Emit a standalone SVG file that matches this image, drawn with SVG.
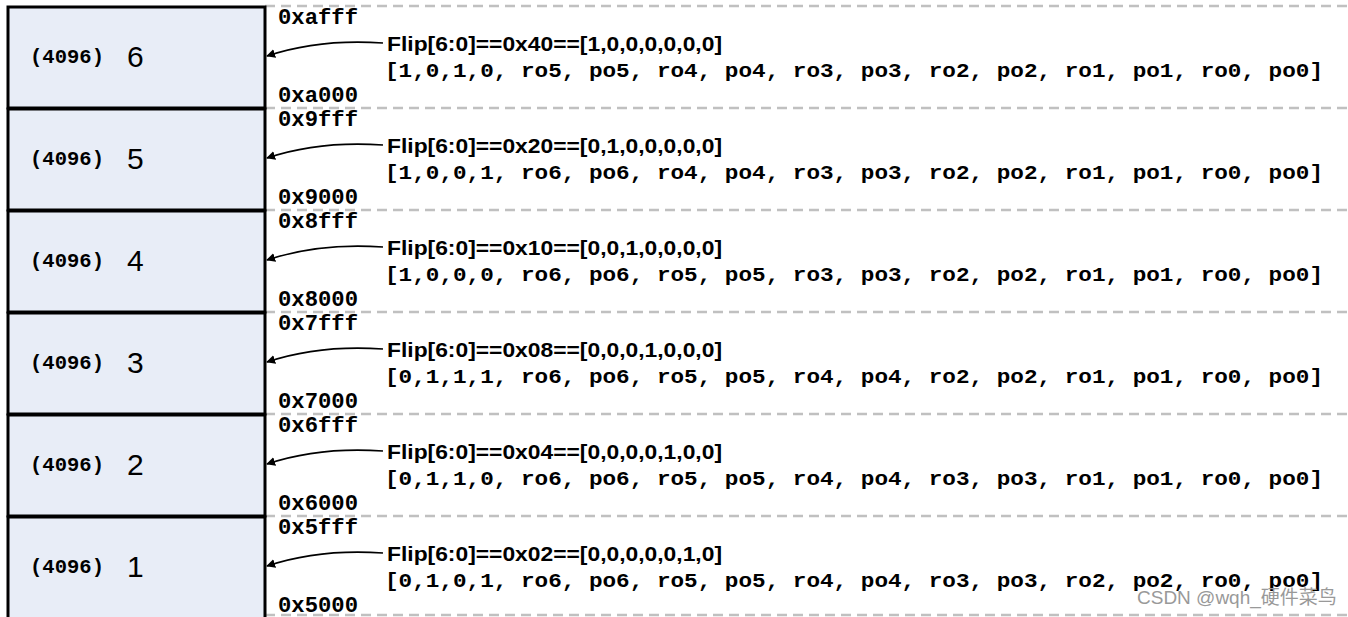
<svg xmlns="http://www.w3.org/2000/svg" width="1348" height="617" viewBox="0 0 1348 617">
<style>
.box{fill:#e8edf7;stroke:#000;stroke-width:3}
.dash{stroke:#c0c0c0;stroke-width:2.5;stroke-dasharray:10 6;fill:none}
.addr{font-family:"Liberation Mono",monospace;font-weight:bold;font-size:22px;fill:#000}
.cnt{font-family:"Liberation Mono",monospace;font-weight:bold;font-size:20px;fill:#000}
.num{font-family:"Liberation Sans",sans-serif;font-size:30px;fill:#000}
.flip{font-family:"Liberation Sans",sans-serif;font-weight:bold;font-size:20px;fill:#000}
.lst{font-family:"Liberation Mono",monospace;font-weight:bold;font-size:20px;fill:#000}
.arr{fill:none;stroke:#000;stroke-width:1.6;marker-end:url(#ah)}
.wm{font-family:"Liberation Sans","Noto Sans CJK SC",sans-serif;font-size:19px;fill:#999}
</style>
<defs><marker id="ah" viewBox="0 0 10 10" refX="9" refY="5" markerWidth="9" markerHeight="9" markerUnits="userSpaceOnUse" orient="auto"><path d="M0,0 L10,5 L0,10 z" fill="#000"/></marker></defs>
<rect width="1348" height="617" fill="#fff"/>
<g id="connectors">
<line class="dash" x1="265" y1="6" x2="1348" y2="6"/>
<line class="dash" x1="265" y1="108" x2="1348" y2="108"/>
<line class="dash" x1="265" y1="210" x2="1348" y2="210"/>
<line class="dash" x1="265" y1="312" x2="1348" y2="312"/>
<line class="dash" x1="265" y1="414" x2="1348" y2="414"/>
<line class="dash" x1="265" y1="516" x2="1348" y2="516"/>
<line class="dash" x1="265" y1="615" x2="1348" y2="615"/>
<path class="arr" d="M383,43 C340,40 300,45 267,56"/>
<path class="arr" d="M383,145 C340,142 300,147 267,158"/>
<path class="arr" d="M383,247 C340,244 300,249 267,260"/>
<path class="arr" d="M383,349 C340,346 300,351 267,362"/>
<path class="arr" d="M383,451 C340,448 300,453 267,464"/>
<path class="arr" d="M383,553 C340,550 300,555 267,566"/>
</g>
<g id="node6"><rect class="box" x="8" y="7" width="257" height="101"/><text class="cnt" x="30" y="63" textLength="74" lengthAdjust="spacingAndGlyphs">(4096)</text><text class="num" x="127" y="67">6</text>
<text class="addr" x="278" y="24" textLength="80" lengthAdjust="spacingAndGlyphs">0xafff</text><text class="addr" x="278" y="102" textLength="80" lengthAdjust="spacingAndGlyphs">0xa000</text>
<text class="flip" x="387" y="51" textLength="335" lengthAdjust="spacingAndGlyphs">Flip[6:0]==0x40==[1,0,0,0,0,0,0]</text>
<text class="lst" x="385" y="77" textLength="938" lengthAdjust="spacingAndGlyphs">[1,0,1,0, ro5, po5, ro4, po4, ro3, po3, ro2, po2, ro1, po1, ro0, po0]</text></g>
<g id="node5"><rect class="box" x="8" y="109" width="257" height="101"/><text class="cnt" x="30" y="165" textLength="74" lengthAdjust="spacingAndGlyphs">(4096)</text><text class="num" x="127" y="169">5</text>
<text class="addr" x="278" y="126" textLength="80" lengthAdjust="spacingAndGlyphs">0x9fff</text><text class="addr" x="278" y="204" textLength="80" lengthAdjust="spacingAndGlyphs">0x9000</text>
<text class="flip" x="387" y="153" textLength="335" lengthAdjust="spacingAndGlyphs">Flip[6:0]==0x20==[0,1,0,0,0,0,0]</text>
<text class="lst" x="385" y="179" textLength="938" lengthAdjust="spacingAndGlyphs">[1,0,0,1, ro6, po6, ro4, po4, ro3, po3, ro2, po2, ro1, po1, ro0, po0]</text></g>
<g id="node4"><rect class="box" x="8" y="211" width="257" height="101"/><text class="cnt" x="30" y="267" textLength="74" lengthAdjust="spacingAndGlyphs">(4096)</text><text class="num" x="127" y="271">4</text>
<text class="addr" x="278" y="228" textLength="80" lengthAdjust="spacingAndGlyphs">0x8fff</text><text class="addr" x="278" y="306" textLength="80" lengthAdjust="spacingAndGlyphs">0x8000</text>
<text class="flip" x="387" y="255" textLength="335" lengthAdjust="spacingAndGlyphs">Flip[6:0]==0x10==[0,0,1,0,0,0,0]</text>
<text class="lst" x="385" y="281" textLength="938" lengthAdjust="spacingAndGlyphs">[1,0,0,0, ro6, po6, ro5, po5, ro3, po3, ro2, po2, ro1, po1, ro0, po0]</text></g>
<g id="node3"><rect class="box" x="8" y="313" width="257" height="101"/><text class="cnt" x="30" y="369" textLength="74" lengthAdjust="spacingAndGlyphs">(4096)</text><text class="num" x="127" y="373">3</text>
<text class="addr" x="278" y="330" textLength="80" lengthAdjust="spacingAndGlyphs">0x7fff</text><text class="addr" x="278" y="408" textLength="80" lengthAdjust="spacingAndGlyphs">0x7000</text>
<text class="flip" x="387" y="357" textLength="335" lengthAdjust="spacingAndGlyphs">Flip[6:0]==0x08==[0,0,0,1,0,0,0]</text>
<text class="lst" x="385" y="383" textLength="938" lengthAdjust="spacingAndGlyphs">[0,1,1,1, ro6, po6, ro5, po5, ro4, po4, ro2, po2, ro1, po1, ro0, po0]</text></g>
<g id="node2"><rect class="box" x="8" y="415" width="257" height="101"/><text class="cnt" x="30" y="471" textLength="74" lengthAdjust="spacingAndGlyphs">(4096)</text><text class="num" x="127" y="475">2</text>
<text class="addr" x="278" y="432" textLength="80" lengthAdjust="spacingAndGlyphs">0x6fff</text><text class="addr" x="278" y="510" textLength="80" lengthAdjust="spacingAndGlyphs">0x6000</text>
<text class="flip" x="387" y="459" textLength="335" lengthAdjust="spacingAndGlyphs">Flip[6:0]==0x04==[0,0,0,0,1,0,0]</text>
<text class="lst" x="385" y="485" textLength="938" lengthAdjust="spacingAndGlyphs">[0,1,1,0, ro6, po6, ro5, po5, ro4, po4, ro3, po3, ro1, po1, ro0, po0]</text></g>
<g id="node1"><rect class="box" x="8" y="517" width="257" height="102"/><text class="cnt" x="30" y="573" textLength="74" lengthAdjust="spacingAndGlyphs">(4096)</text><text class="num" x="127" y="577">1</text>
<text class="addr" x="278" y="534" textLength="80" lengthAdjust="spacingAndGlyphs">0x5fff</text><text class="addr" x="278" y="612" textLength="80" lengthAdjust="spacingAndGlyphs">0x5000</text>
<text class="flip" x="387" y="561" textLength="335" lengthAdjust="spacingAndGlyphs">Flip[6:0]==0x02==[0,0,0,0,0,1,0]</text>
<text class="lst" x="385" y="587" textLength="938" lengthAdjust="spacingAndGlyphs">[0,1,0,1, ro6, po6, ro5, po5, ro4, po4, ro3, po3, ro2, po2, ro0, po0]</text></g>
<text class="wm" x="1137" y="604">CSDN @wqh_硬件菜鸟</text>
</svg>
